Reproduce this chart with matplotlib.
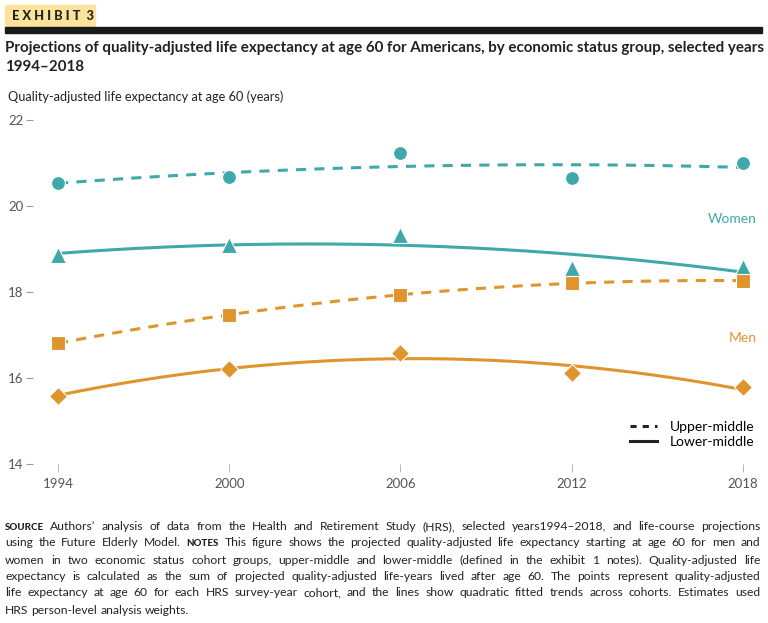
import numpy as np
import matplotlib.pyplot as plt
from matplotlib.lines import Line2D
from matplotlib.patches import Rectangle

years = [1994, 2000, 2006, 2012, 2018]
women_upper = [20.53, 20.67, 21.23, 20.65, 21.00]
women_lower = [18.86, 19.09, 19.33, 18.56, 18.58]
men_upper = [16.81, 17.47, 17.93, 18.21, 18.26]
men_lower = [15.58, 16.21, 16.58, 16.12, 15.79]
yticks = [14, 16, 18, 20, 22]

teal = '#3fa9a9'
orange = '#e0952c'
dark = '#222222'
grey = '#555555'

plt.rcParams['font.family'] = ['Lato', 'DejaVu Sans']

fig = plt.figure(figsize=(7.68, 6.23), dpi=100)
W, H = 768, 623

def fx(px):
    return px / W

def fy(py):
    return 1 - py / H

# header: yellow tag + black rule
fig.patches.append(Rectangle((fx(5), fy(26)), fx(90), 21 / H, transform=fig.transFigure,
                             color='#fbe39c', zorder=0))
fig.patches.append(Rectangle((fx(5), fy(33)), fx(757), 6 / H, transform=fig.transFigure,
                             color='#1a1a1a', zorder=0))
fig.text(fx(12), fy(16), 'E X H I B I T  3', fontsize=9.3, fontweight='black', color=dark,
         va='center', ha='left')

fig.text(fx(5), fy(48), 'Projections of quality-adjusted life expectancy at age 60 for Americans, by economic status group, selected years',
         fontsize=10.9, fontweight='bold', color=dark, va='center')
fig.text(fx(5), fy(67), '1994\u20132018', fontsize=10.9, fontweight='bold', color=dark, va='center')
fig.text(fx(8), fy(97), 'Quality-adjusted life expectancy at age 60 (years)', fontsize=9.2,
         color=dark, va='center')

ax = fig.add_axes([fx(33), fy(464), fx(727), 344 / H])
for s in ax.spines.values():
    s.set_visible(False)

x = np.array(years)
xs = np.linspace(1994, 2018, 200)

series = [
    (women_upper, teal, 'o', 10, (3.3, 2.7)),
    (women_lower, teal, '^', 11, None),
    (men_upper, orange, 's', 10, (3.3, 2.7)),
    (men_lower, orange, 'D', 9.5, None),
]
for vals, col, mk, ms, dash in series:
    # quadratic fitted trend across cohorts, as in the exhibit notes
    coef = np.polyfit(x, vals, 2)
    line, = ax.plot(xs, np.polyval(coef, xs), color=col, lw=2.2, zorder=2)
    if dash:
        line.set_dashes(dash)
    ax.plot(x, vals, ls='none', marker=mk, ms=ms, color=col, mec='white', mew=0.8, zorder=3)

ax.set_xlim(1993.12, 2018.6)
ax.set_ylim(14, 22)
ax.set_xticks(years)
ax.set_yticks(yticks)
ax.tick_params(axis='y', length=5, width=0.8, color='#999999', labelcolor=grey,
               labelsize=9.5, pad=2, direction='out')
ax.tick_params(axis='x', length=6, width=0.6, color='#aaaaaa', labelcolor=grey,
               labelsize=9.5, pad=4, direction='out')

ax.text(2018.5, 19.70, 'Women', color=teal, fontsize=10, ha='right', va='center')
ax.text(2018.5, 16.93, 'Men', color=orange, fontsize=10, ha='right', va='center')

handles = [Line2D([], [], color=dark, lw=2.2, dashes=(2.0, 2.0)),
           Line2D([], [], color=dark, lw=2.2)]
ax.legend(handles, ['Upper-middle', 'Lower-middle'], loc='lower right',
          bbox_to_anchor=(1.0, 0.03), frameon=False, fontsize=10, handlelength=2.0,
          handletextpad=0.9, labelspacing=0.25, borderaxespad=0)

# footnote, justified line by line
foot_lines = [
    [('SOURCE', True), "Authors\u2019 analysis of data from the Health and Retirement Study (HRS), selected years1994\u20132018, and life-course projections"],
    ["using the Future Elderly Model.", ('NOTES', True), "This figure shows the projected quality-adjusted life expectancy starting at age 60 for men and"],
    ["women in two economic status cohort groups, upper-middle and lower-middle (defined in the exhibit 1 notes). Quality-adjusted life"],
    ["expectancy is calculated as the sum of projected quality-adjusted life-years lived after age 60. The points represent quality-adjusted"],
    ["life expectancy at age 60 for each HRS survey-year cohort, and the lines show quadratic fitted trends across cohorts. Estimates used"],
    ["HRS person-level analysis weights."],
]
foot_y = [527, 543, 560, 577, 593, 610]
renderer = fig.canvas.get_renderer()
left, right = 5, 760
for i, (parts, py) in enumerate(zip(foot_lines, foot_y)):
    words = []
    for p in parts:
        if isinstance(p, tuple):
            words.append((p[0], True))
        else:
            words += [(w, False) for w in p.split(' ')]
    texts = []
    for w, b in words:
        t = fig.text(0, fy(py), w, fontsize=7.0 if b else 8.7, fontweight='black' if b else 'normal',
                     color=dark, va='center', ha='left')
        texts.append(t)
    widths = [t.get_window_extent(renderer).width for t in texts]
    last = i == len(foot_lines) - 1
    if last or len(texts) < 2:
        gap = 3.0
    else:
        gap = max(1.5, (right - left - sum(widths)) / (len(texts) - 1))
    cx = left
    for t, w in zip(texts, widths):
        t.set_x(fx(cx))
        cx += w + gap

fig.savefig('out.png', dpi=100)
